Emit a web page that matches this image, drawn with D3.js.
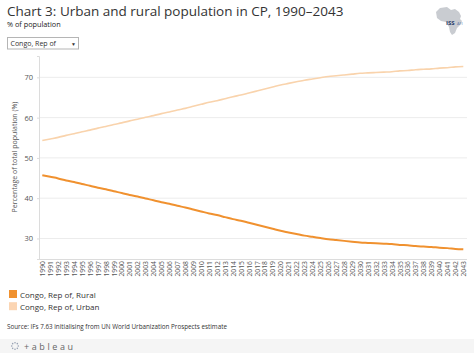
<!DOCTYPE html>
<html><head><meta charset="utf-8">
<script src="https://cdn.jsdelivr.net/npm/d3@7"></script>
<style>body{margin:0;background:#fff}svg{display:block;font-family:"Open Sans",sans-serif}</style>
</head><body>
<script>
const years = d3.range(1990, 2044);
const ruralValues = [45.7,45.3,44.9,44.4,44.0,43.5,43.1,42.6,42.2,41.7,41.3,40.8,40.4,39.9,39.5,39.0,38.6,38.1,37.7,37.2,36.7,36.2,35.8,35.3,34.8,34.4,33.9,
  33.4,32.9,32.4,31.9,31.5,31.1,30.7,30.4,30.1,29.8,29.6,29.4,29.2,29.0,28.9,28.8,28.7,28.6,28.4,28.3,28.1,28.0,27.9,27.7,27.6,27.4,27.3];
const urbanValues = [54.3,54.7,55.1,55.6,56.0,56.5,56.9,57.4,57.8,58.3,58.7,59.2,59.6,60.1,60.5,61.0,61.4,61.9,62.3,62.8,63.3,63.8,64.2,64.7,65.2,65.6,66.1,
  66.6,67.1,67.6,68.1,68.5,68.9,69.3,69.6,69.9,70.2,70.4,70.6,70.8,71.0,71.1,71.2,71.3,71.4,71.6,71.7,71.9,72.0,72.1,72.3,72.4,72.6,72.7];
const yTicks = [30, 40, 50, 60, 70];
const seriesNames = ["Congo, Rep of, Rural", "Congo, Rep of, Urban"];

const W = 474, H = 355;
const svg = d3.select("body").append("svg").attr("width", W).attr("height", H);
svg.append("rect").attr("width", W).attr("height", H).attr("fill", "#fff");

// title
svg.append("text").attr("x", 7).attr("y", 16).attr("font-size", 13.5).attr("fill", "#333")
  .text("Chart 3: Urban and rural population in CP, 1990–2043");
svg.append("text").attr("x", 7).attr("y", 27).attr("font-size", 7.3).attr("fill", "#222").attr("font-weight", 500)
  .text("% of population");

// logo
const logo = svg.append("g");
logo.append("path").attr("fill", "#c9ccd1")
  .attr("d", "M436,12 L440,8 L447,7 L451,10 L455,9 L459,12 L461,16 L460,19 L462,21 L460,25 L457,28 L455,33 L452,35 L450,32 L449,27 L446,22 L441,21 L437,18 Z");
logo.append("text").attr("x", 446).attr("y", 25).attr("font-size", 6).attr("font-weight", 700).attr("fill", "#2b3e6b").text("ISS");
logo.append("text").attr("x", 457).attr("y", 25).attr("font-size", 4).attr("fill", "#5b77a8").text("AFI");

// dropdown
svg.append("rect").attr("x", 7.5).attr("y", 37.5).attr("width", 71).attr("height", 11.5)
  .attr("fill", "#fff").attr("stroke", "#b5b5b5");
svg.append("text").attr("x", 10.5).attr("y", 46).attr("font-size", 7).attr("fill", "#333").text("Congo, Rep of");
svg.append("text").attr("x", 71).attr("y", 45.5).attr("font-size", 5).attr("fill", "#333").text("▼");

// scales
const x = d3.scalePoint().domain(years).range([42.3, 463.3]);
const y = d3.scaleLinear().domain([24.9, 75.3]).range([259, 56]);
const left = 39, right = 467;

// grid
svg.append("g").selectAll("line").data(yTicks).join("line")
  .attr("x1", left).attr("x2", right).attr("y1", d => y(d)).attr("y2", d => y(d))
  .attr("stroke", "#ececec").attr("stroke-width", 1);

// y axis
const yAxis = svg.append("g").attr("transform", `translate(${left},0)`)
  .call(d3.axisLeft(y).tickValues(yTicks).tickSize(2).tickPadding(4));
yAxis.select(".domain").attr("stroke", "#dcdcdc");
yAxis.selectAll(".tick line").attr("stroke", "#dcdcdc");
yAxis.selectAll("text").attr("font-size", 7.5).attr("fill", "#555").attr("font-family", "Open Sans, sans-serif");

svg.append("text").attr("transform", "translate(17,157) rotate(-90)").attr("text-anchor", "middle")
  .attr("font-size", 7).attr("fill", "#555").text("Percentage of total population (%)");

// x axis
const xAxis = svg.append("g").attr("transform", "translate(0,259)")
  .call(d3.axisBottom(x).tickSize(0).tickPadding(2).tickFormat(d3.format("d")));
xAxis.select(".domain").attr("d", `M${left},0.5H${right}`).attr("stroke", "#dcdcdc");
xAxis.selectAll("text").attr("font-size", 6.8).attr("fill", "#555").attr("font-family", "Open Sans, sans-serif")
  .attr("transform", "rotate(-90)").attr("text-anchor", "end").attr("x", -2).attr("y", 0).attr("dy", "0.33em");

// lines
const line = d3.line().x((d, i) => x(years[i])).y(d => y(d)).curve(d3.curveMonotoneX);
svg.append("path").datum(urbanValues).attr("d", line).attr("fill", "none")
  .attr("stroke", "#f9d3ac").attr("stroke-width", 1.6);
svg.append("path").datum(ruralValues).attr("d", line).attr("fill", "none")
  .attr("stroke", "#f0912f").attr("stroke-width", 2);

// legend
const colors = ["#f0912f", "#fbd5b3"];
const lg = svg.append("g").selectAll("g").data(seriesNames).join("g")
  .attr("transform", (d, i) => `translate(9,${290 + i * 12.2})`);
lg.append("rect").attr("width", 8).attr("height", 8).attr("fill", (d, i) => colors[i]);
lg.append("text").attr("x", 11).attr("y", 7.5).attr("font-size", 8).attr("fill", "#333").text(d => d);

// source
svg.append("text").attr("x", 7).attr("y", 328.5).attr("font-size", 6.3).attr("fill", "#333")
  .text("Source: IFs 7.63 initialising from UN World Urbanization Prospects estimate");

// tableau bar
svg.append("rect").attr("x", 0).attr("y", 339).attr("width", 474).attr("height", 14).attr("fill", "#f5f5f5");
const ic = svg.append("g").attr("transform", "translate(15,346)");
d3.range(8).forEach(k => {
  const a = k * Math.PI / 4;
  ic.append("circle").attr("cx", 3.3 * Math.cos(a)).attr("cy", 3.3 * Math.sin(a)).attr("r", 0.8).attr("fill", "#9aa3b5");
});
svg.append("text").attr("x", 24).attr("y", 349.5).attr("font-size", 9).attr("fill", "#666")
  .attr("letter-spacing", 2.6).text("+ableau");
</script>
</body></html>
